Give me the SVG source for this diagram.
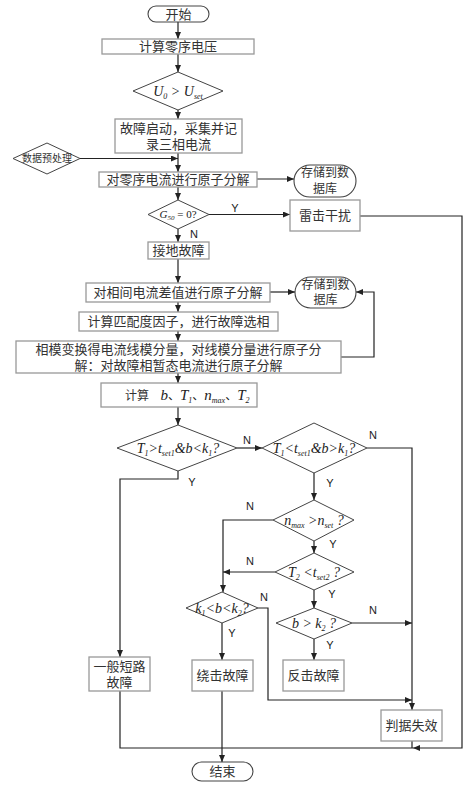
<svg xmlns="http://www.w3.org/2000/svg" width="474" height="787" viewBox="0 0 474 787">
<defs>
<marker id="arr" markerWidth="7" markerHeight="6" refX="7" refY="3" orient="auto" markerUnits="userSpaceOnUse">
<path d="M0,0 L7,3 L0,6 Z" fill="#222"/>
</marker>
<style>
.box{fill:#fff;stroke:#999;stroke-width:1.3}
.dia{fill:#fff;stroke:#444;stroke-width:1}
.term{fill:#fff;stroke:#444;stroke-width:1.1}
.cn{font-family:"Noto Sans CJK SC","Liberation Serif",serif;font-size:13px;fill:#333;text-anchor:middle}
.cs{font-size:12px}
.m{font-family:"Liberation Serif",serif;font-style:italic;font-size:14px;fill:#222;text-anchor:middle}
.s{font-size:8px}
.lb{font-family:"Liberation Sans",Arial,sans-serif;font-size:11px;fill:#222;text-anchor:middle}
.c{fill:none;stroke:#222;stroke-width:1.2}
</style>
</defs>
<rect width="474" height="787" fill="#fff"/>
<g id="connectors">
<path class="c" d="M178,22 V39" marker-end="url(#arr)"/>
<path class="c" d="M178,54 V72" marker-end="url(#arr)"/>
<path class="c" d="M178,110 V119" marker-end="url(#arr)"/>
<path class="c" d="M178,153 V172" marker-end="url(#arr)"/>
<path class="c" d="M80,158.5 H178" marker-end="url(#arr)"/>
<path class="c" d="M257,179 H294" marker-end="url(#arr)"/>
<path class="c" d="M178,187 V200" marker-end="url(#arr)"/>
<path class="c" d="M209,214.5 H290" marker-end="url(#arr)"/>
<path class="c" d="M360,216 H462 V748 H413" marker-end="url(#arr)"/>
<path class="c" d="M178,229 V242" marker-end="url(#arr)"/>
<path class="c" d="M178,259 V283" marker-end="url(#arr)"/>
<path class="c" d="M270,292 H295" marker-end="url(#arr)"/>
<path class="c" d="M178,302 V312" marker-end="url(#arr)"/>
<path class="c" d="M178,331 V341" marker-end="url(#arr)"/>
<path class="c" d="M341,357 H374 V292 H356" marker-end="url(#arr)"/>
<path class="c" d="M178,373 V383" marker-end="url(#arr)"/>
<path class="c" d="M178,407 V425" marker-end="url(#arr)"/>
<path class="c" d="M178,471 V479 H120 V657" marker-end="url(#arr)"/>
<path class="c" d="M237,448 H262" marker-end="url(#arr)"/>
<path class="c" d="M367,448 H412 V710" marker-end="url(#arr)"/>
<path class="c" d="M314,473 V500" marker-end="url(#arr)"/>
<path class="c" d="M273,520 H223 V592" marker-end="url(#arr)"/>
<path class="c" d="M314,541 V553" marker-end="url(#arr)"/>
<path class="c" d="M275,572 H223" marker-end="url(#arr)"/>
<path class="c" d="M314,590 V608" marker-end="url(#arr)"/>
<path class="c" d="M352,623 H412" marker-end="url(#arr)"/>
<path class="c" d="M314,639 V660" marker-end="url(#arr)"/>
<path class="c" d="M258,608 H268 V700 H412" marker-end="url(#arr)"/>
<path class="c" d="M222,623 V660" marker-end="url(#arr)"/>
<path class="c" d="M222,691 V762" marker-end="url(#arr)"/>
<path class="c" d="M120,691 V748 H413"/>
<path class="c" d="M412,741 V748"/>
<text class="lb" x="235" y="212">Y</text>
<text class="lb" x="194" y="238">N</text>
<text class="lb" x="192" y="486">Y</text>
<text class="lb" x="247" y="444">N</text>
<text class="lb" x="373" y="439">N</text>
<text class="lb" x="330" y="487">Y</text>
<text class="lb" x="250" y="510">N</text>
<text class="lb" x="333" y="548">Y</text>
<text class="lb" x="250" y="565">N</text>
<text class="lb" x="332" y="598">Y</text>
<text class="lb" x="373" y="614">N</text>
<text class="lb" x="330" y="649">Y</text>
<text class="lb" x="264" y="601">N</text>
<text class="lb" x="232" y="637">Y</text>
</g>
<g id="start"><rect class="term" x="148" y="6" width="61" height="16" rx="8"/><text class="cn" x="178.5" y="18.5">开始</text></g>
<g id="calcU0"><rect class="box" x="102" y="39" width="152" height="15"/><text class="cn" x="178" y="51">计算零序电压</text></g>
<g id="decU0"><polygon class="dia" points="133,91 178,72 223,91 178,110"/>
<text class="m" x="178" y="96">U<tspan class="s" dy="3">0</tspan><tspan dy="-3"> &gt; U</tspan><tspan class="s" dy="3">set</tspan></text></g>
<g id="faultStart"><rect class="box" x="115" y="119" width="127" height="34"/><text class="cn" x="178.5" y="133">故障启动，采集并记</text><text class="cn" x="178.5" y="149">录三相电流</text></g>
<g id="preproc"><polygon class="dia" points="13,158.5 47,143 80,158.5 47,174"/><text class="cn" x="47" y="162" style="font-size:10px">数据预处理</text></g>
<g id="zeroDecomp"><rect class="box" x="99" y="172" width="158" height="15"/><text class="cn" x="178" y="184">对零序电流进行原子分解</text></g>
<g id="db1"><rect class="term" x="294" y="165" width="62" height="32" rx="16"/><text class="cn cs" x="325" y="177">存储到数</text><text class="cn cs" x="325" y="193">据库</text></g>
<g id="decG50"><polygon class="dia" points="148,214.5 178,200 209,214.5 178,229"/>
<text class="m" x="178" y="218" style="font-size:11px">G<tspan class="s" dy="2" style="font-size:7px">50</tspan><tspan dy="-2" style="font-style:normal"> = 0?</tspan></text></g>
<g id="lightning"><rect class="box" x="290" y="200" width="70" height="31"/><text class="cn" x="325" y="220">雷击干扰</text></g>
<g id="ground"><rect class="box" x="148" y="242" width="61" height="17"/><text class="cn" x="178.5" y="255">接地故障</text></g>
<g id="diffDecomp"><rect class="box" x="86" y="283" width="184" height="19"/><text class="cn" x="178" y="297">对相间电流差值进行原子分解</text></g>
<g id="db2"><rect class="term" x="295" y="277" width="61" height="31" rx="15.5"/><text class="cn cs" x="325.5" y="289">存储到数</text><text class="cn cs" x="325.5" y="304">据库</text></g>
<g id="match"><rect class="box" x="79" y="312" width="199" height="19"/><text class="cn" x="178.5" y="326">计算匹配度因子，进行故障选相</text></g>
<g id="modal"><rect class="box" x="16" y="341" width="325" height="32"/><text class="cn" x="178.5" y="353.5">相模变换得电流线模分量，对线模分量进行原子分</text><text class="cn" x="178.5" y="369.5">解：对故障相暂态电流进行原子分解</text></g>
<g id="calc"><rect class="box" x="101" y="383" width="156" height="24"/>
<text class="cn" x="137" y="400" style="font-size:12px">计算</text>
<text class="m" x="205" y="400" style="font-size:15px">b<tspan style="font-style:normal;font-family:'Noto Sans CJK SC',serif;font-size:12px">、</tspan>T<tspan class="s" dy="3">1</tspan><tspan dy="-3" style="font-style:normal;font-family:'Noto Sans CJK SC',serif;font-size:12px">、</tspan>n<tspan class="s" dy="3">max</tspan><tspan dy="-3" style="font-style:normal;font-family:'Noto Sans CJK SC',serif;font-size:12px">、</tspan>T<tspan class="s" dy="3">2</tspan></text></g>
<g id="d1"><polygon class="dia" points="117,448 178,425 237,448 178,471"/>
<text class="m" x="178" y="453">T<tspan class="s" dy="3">1</tspan><tspan dy="-3">&gt;t</tspan><tspan class="s" dy="3">set1</tspan><tspan dy="-3">&amp;b&lt;k</tspan><tspan class="s" dy="3">1</tspan><tspan dy="-3">?</tspan></text></g>
<g id="d2"><polygon class="dia" points="262,448 314,423 367,448 314,473"/>
<text class="m" x="314" y="453">T<tspan class="s" dy="3">1</tspan><tspan dy="-3">&lt;t</tspan><tspan class="s" dy="3">set1</tspan><tspan dy="-3">&amp;b&gt;k</tspan><tspan class="s" dy="3">1</tspan><tspan dy="-3">?</tspan></text></g>
<g id="d3"><polygon class="dia" points="273,520 314,500 354,520 314,541"/>
<text class="m" x="314" y="525">n<tspan class="s" dy="3">max</tspan><tspan dy="-3"> &gt;n</tspan><tspan class="s" dy="3">set</tspan><tspan dy="-3"> ?</tspan></text></g>
<g id="d4"><polygon class="dia" points="275,572 314,553 354,572 314,590"/>
<text class="m" x="314" y="577">T<tspan class="s" dy="3">2</tspan><tspan dy="-3"> &lt;t</tspan><tspan class="s" dy="3">set2</tspan><tspan dy="-3"> ?</tspan></text></g>
<g id="d5"><polygon class="dia" points="186,608 222,592 258,608 222,623"/>
<text class="m" x="222" y="613">k<tspan class="s" dy="3">1</tspan><tspan dy="-3">&lt;b&lt;k</tspan><tspan class="s" dy="3">2</tspan><tspan dy="-3">?</tspan></text></g>
<g id="d6"><polygon class="dia" points="276,623 314,608 352,623 314,639"/>
<text class="m" x="314" y="628">b &gt; k<tspan class="s" dy="3">2</tspan><tspan dy="-3"> ?</tspan></text></g>
<g id="shortCircuit"><rect class="box" x="89" y="657" width="61" height="34"/><text class="cn" x="119.5" y="671">一般短路</text><text class="cn" x="119.5" y="687">故障</text></g>
<g id="shielding"><rect class="box" x="192" y="660" width="61" height="31"/><text class="cn" x="222.5" y="680">绕击故障</text></g>
<g id="backflash"><rect class="box" x="283" y="660" width="61" height="31"/><text class="cn" x="313.5" y="680">反击故障</text></g>
<g id="invalid"><rect class="box" x="381" y="710" width="61" height="31"/><text class="cn" x="411.5" y="730">判据失效</text></g>
<g id="end"><rect class="term" x="192" y="762" width="61" height="19" rx="9.5"/><text class="cn" x="222.5" y="776">结束</text></g>
</svg>
